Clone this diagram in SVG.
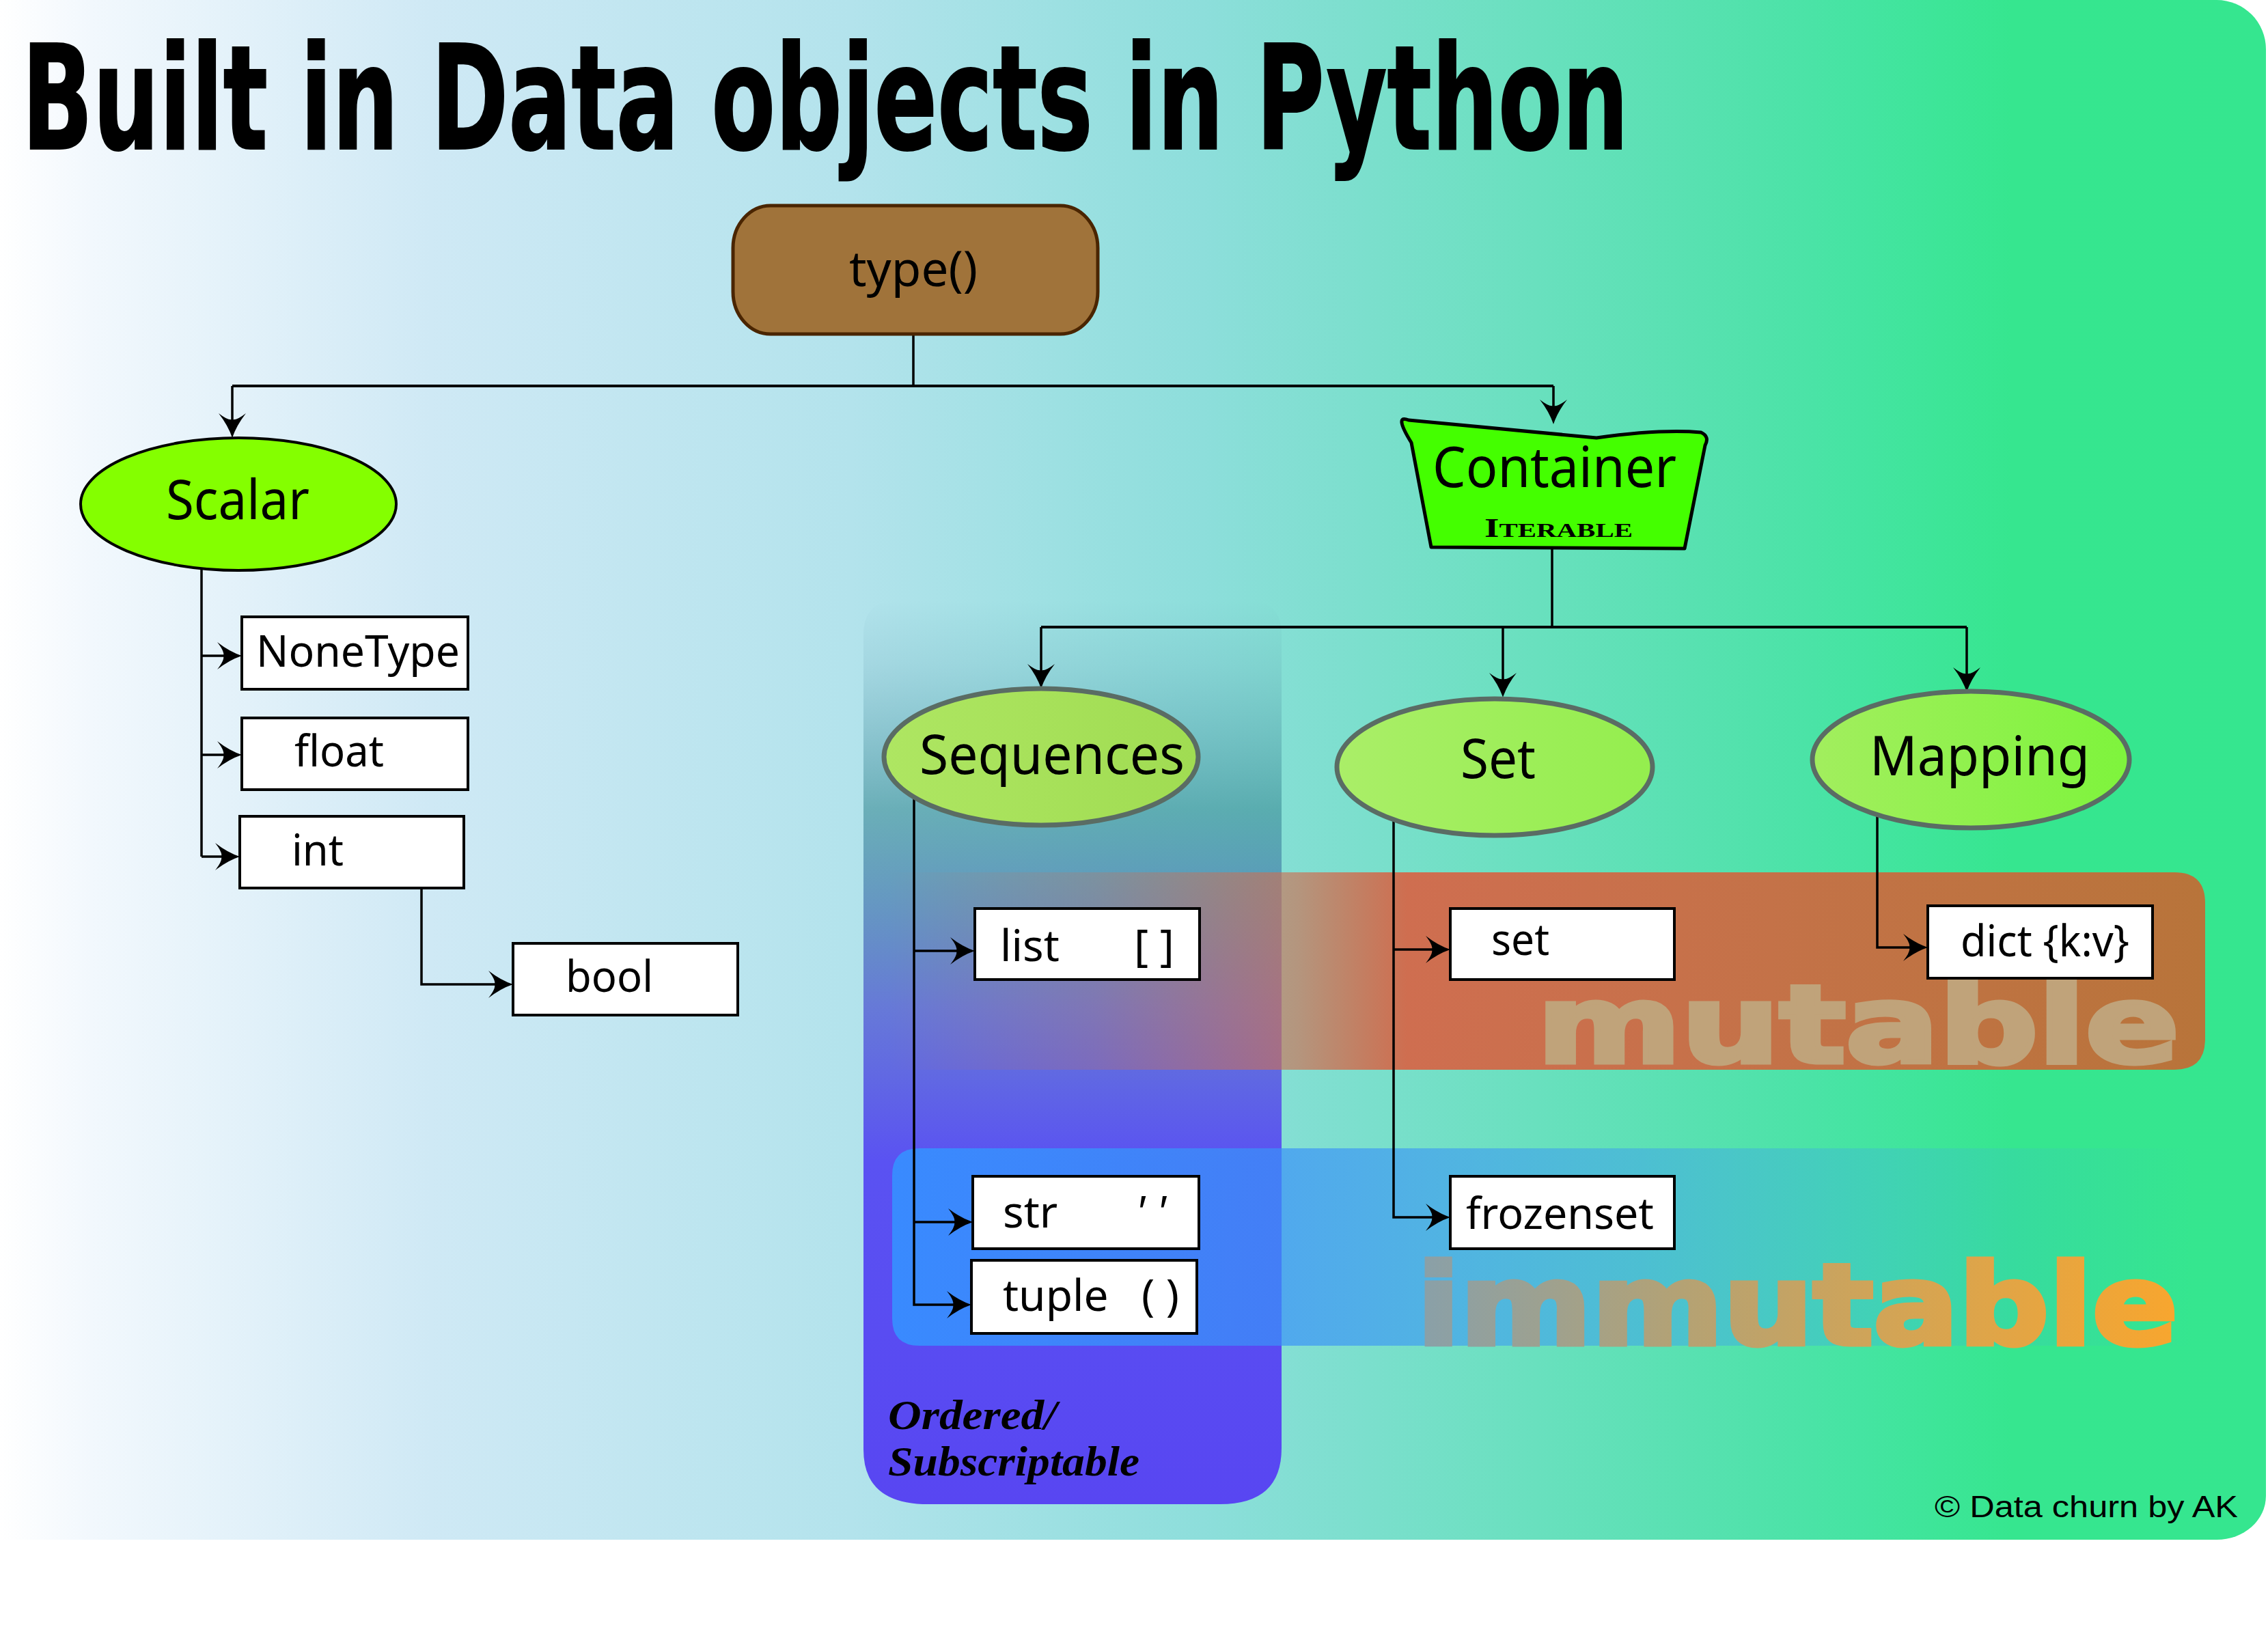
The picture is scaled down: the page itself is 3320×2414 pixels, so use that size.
<svg xmlns="http://www.w3.org/2000/svg" width="3320" height="2414" viewBox="0 0 3320 2414">
<defs>
<style>
.lbl{font-family:"Noto Sans","Open Sans","DejaVu Sans",sans-serif;fill:#000;}
.box{fill:#fff;stroke:#000;stroke-width:4;}
.ln{fill:none;stroke:#000;stroke-width:3.5;}
.lnk{fill:none;stroke:#000;stroke-width:4;}
.arr{marker-end:url(#ah);}
.cat{stroke:#5a6c64;stroke-width:7;}
</style>
<marker id="ah" viewBox="-30 -22 44 44" refX="0" refY="0" markerWidth="44" markerHeight="44" markerUnits="userSpaceOnUse" orient="auto">
<path d="M10,0 Q-8,-6 -26,-20 Q-15,-6 -17,0 Q-15,6 -26,20 Q-8,6 10,0 Z" fill="#000"/>
</marker>
<linearGradient id="bg" gradientUnits="userSpaceOnUse" x1="0" y1="0" x2="3320" y2="0">
<stop offset="0" stop-color="#ffffff"/>
<stop offset="0.04" stop-color="#f2f8fd"/>
<stop offset="0.19" stop-color="#cfe9f5"/>
<stop offset="0.375" stop-color="#b3e3ec"/>
<stop offset="0.53" stop-color="#8ddedb"/>
<stop offset="0.75" stop-color="#57e1b0"/>
<stop offset="0.82" stop-color="#45e4a2"/>
<stop offset="0.887" stop-color="#36e68f"/>
<stop offset="1" stop-color="#35e68f"/>
</linearGradient>
<linearGradient id="panel" gradientUnits="userSpaceOnUse" x1="0" y1="879" x2="0" y2="2202">
<stop offset="0" stop-color="#5a96aa" stop-opacity="0"/>
<stop offset="0.07" stop-color="#5a96aa" stop-opacity="0.15"/>
<stop offset="0.23" stop-color="#3c8c96" stop-opacity="0.6"/>
<stop offset="0.45" stop-color="#6070d6" stop-opacity="0.92"/>
<stop offset="0.62" stop-color="#5a52f2"/>
<stop offset="1" stop-color="#5846f2"/>
</linearGradient>
<linearGradient id="mut" gradientUnits="userSpaceOnUse" x1="1300" y1="0" x2="3228" y2="0">
<stop offset="0" stop-color="#cf6e50" stop-opacity="0"/>
<stop offset="0.156" stop-color="#cf6e50" stop-opacity="0.25"/>
<stop offset="0.311" stop-color="#cf6e50" stop-opacity="0.65"/>
<stop offset="0.394" stop-color="#cf6e50" stop-opacity="1"/>
<stop offset="0.67" stop-color="#c47248"/>
<stop offset="1" stop-color="#b8743a"/>
</linearGradient>
<linearGradient id="imm" gradientUnits="userSpaceOnUse" x1="1306" y1="0" x2="3210" y2="0">
<stop offset="0" stop-color="#388cff" stop-opacity="0.97"/>
<stop offset="0.3" stop-color="#3a92f8" stop-opacity="0.7"/>
<stop offset="0.57" stop-color="#3c9cf0" stop-opacity="0.5"/>
<stop offset="0.78" stop-color="#3ca8e6" stop-opacity="0.28"/>
<stop offset="1" stop-color="#3ca8e6" stop-opacity="0"/>
</linearGradient>
<linearGradient id="immtxt" gradientUnits="userSpaceOnUse" x1="2070" y1="0" x2="3190" y2="0">
<stop offset="0" stop-color="#88a0aa"/>
<stop offset="0.35" stop-color="#b4a274"/>
<stop offset="0.6" stop-color="#d0a458"/>
<stop offset="1" stop-color="#f8a62e"/>
</linearGradient>
<linearGradient id="eSeq" x1="0" y1="0" x2="1" y2="0">
<stop offset="0" stop-color="#aee662"/>
<stop offset="1" stop-color="#a0dc52"/>
</linearGradient>
<linearGradient id="eSet" x1="0" y1="0" x2="1" y2="0">
<stop offset="0" stop-color="#aaee68"/>
<stop offset="1" stop-color="#94ee4e"/>
</linearGradient>
<linearGradient id="eMap" x1="0" y1="0" x2="1" y2="0">
<stop offset="0" stop-color="#a2ee5e"/>
<stop offset="1" stop-color="#7ef43c"/>
</linearGradient>
</defs>

<g id="background">
<path d="M0,0 H3245 A72,72 0 0 1 3317,72 V2190 A72,64 0 0 1 3245,2254 H0 Z" fill="url(#bg)"/>
</g>

<g id="title">
<text x="32" y="218" font-family="'DejaVu Sans Condensed','DejaVu Sans',sans-serif" font-stretch="condensed" font-weight="bold" font-size="212" textLength="2352" lengthAdjust="spacingAndGlyphs" fill="#000" stroke="#000" stroke-width="2">Built in Data objects in Python</text>
</g>

<g id="ordered-panel">
<path d="M1314,879 H1826 Q1876,879 1876,929 V2120 Q1876,2202 1786,2202 H1359 Q1264,2202 1264,2122 V929 Q1264,879 1314,879 Z" fill="url(#panel)"/>
<text x="1300" y="2092" font-family="'Liberation Serif',serif" font-style="italic" font-weight="bold" font-size="62" textLength="247" lengthAdjust="spacingAndGlyphs">Ordered/</text>
<text x="1300" y="2160" font-family="'Liberation Serif',serif" font-style="italic" font-weight="bold" font-size="62" textLength="368" lengthAdjust="spacingAndGlyphs">Subscriptable</text>
</g>

<g id="mutable-band">
<path d="M1300,1277 H3183 Q3228,1277 3228,1322 V1521 Q3228,1566 3183,1566 H1300 Z" fill="url(#mut)"/>
<text x="2250" y="1555" font-family="'DejaVu Sans',sans-serif" font-weight="bold" font-size="156" textLength="940" lengthAdjust="spacingAndGlyphs" fill="#c0a37a" stroke="#c0a37a" stroke-width="7">mutable</text>
</g>

<g id="immutable-band">
<path d="M1346,1681 H3210 V1970 H1346 Q1306,1970 1306,1930 V1721 Q1306,1681 1346,1681 Z" fill="url(#imm)"/>
<text x="2074" y="1968" font-family="'DejaVu Sans',sans-serif" font-weight="bold" font-size="164" textLength="1114" lengthAdjust="spacingAndGlyphs" fill="url(#immtxt)" stroke="url(#immtxt)" stroke-width="7">immutable</text>
</g>

<g id="connectors">
<path class="ln" d="M1337,490 V565"/>
<path class="lnk" d="M340,565 H2274"/>
<path class="ln arr" d="M340,565 V631"/>
<path class="ln arr" d="M2274,565 V611"/>
<path class="ln" d="M295,832 V1254"/>
<path class="ln arr" d="M295,960 H344"/>
<path class="ln arr" d="M295,1105 H344"/>
<path class="ln arr" d="M295,1254 H341"/>
<path class="ln arr" d="M617,1300 V1441 H741"/>
<path class="ln" d="M2272,803 V918"/>
<path class="lnk" d="M1524,918 H2879"/>
<path class="ln arr" d="M1524,918 V998"/>
<path class="ln arr" d="M2200,918 V1011"/>
<path class="ln arr" d="M2879,918 V1003"/>
<path class="ln arr" d="M1338,1168 V1910 H1412"/>
<path class="ln arr" d="M1338,1392 H1417"/>
<path class="ln arr" d="M1338,1789 H1414"/>
<path class="ln arr" d="M2040,1199 V1782 H2113"/>
<path class="ln arr" d="M2040,1390 H2113"/>
<path class="ln arr" d="M2748,1190 V1387 H2812"/>
</g>

<g id="node-type">
<rect x="1073" y="301" width="534" height="188" rx="55" ry="62" fill="#a0733a" stroke="#4a2500" stroke-width="5"/>
<text class="lbl" x="1243" y="419" font-size="72" textLength="188" lengthAdjust="spacingAndGlyphs">type()</text>
</g>

<g id="node-scalar">
<ellipse cx="349" cy="738" rx="231" ry="97" fill="#84ff00" stroke="#000" stroke-width="4"/>
<text class="lbl" x="243" y="760" font-size="80" textLength="210" lengthAdjust="spacingAndGlyphs">Scalar</text>
</g>

<g id="node-container">
<path d="M2095,801 L2066,648 Q2040,606 2062,615 L2337,641 Q2430,628 2490,633 Q2503,639 2496,652 L2466,803 Z" fill="#44ff00" stroke="#000" stroke-width="5" stroke-linejoin="round"/>
<text class="lbl" x="2097" y="713" font-size="82" textLength="357" lengthAdjust="spacingAndGlyphs">Container</text>
<text x="2173" y="786" font-family="'Liberation Serif',serif" font-weight="bold" font-size="39" textLength="217" lengthAdjust="spacingAndGlyphs">I<tspan font-size="29">TERABLE</tspan></text>
</g>

<g id="node-nonetype">
<rect class="box" x="354" y="903" width="331" height="106"/>
<text class="lbl" x="375" y="976" font-size="64" textLength="298" lengthAdjust="spacingAndGlyphs">NoneType</text>
</g>
<g id="node-float">
<rect class="box" x="354" y="1051" width="331" height="105"/>
<text class="lbl" x="431" y="1122" font-size="64" textLength="131" lengthAdjust="spacingAndGlyphs">float</text>
</g>
<g id="node-int">
<rect class="box" x="351" y="1195" width="328" height="105"/>
<text class="lbl" x="427" y="1267" font-size="64" textLength="76" lengthAdjust="spacingAndGlyphs">int</text>
</g>
<g id="node-bool">
<rect class="box" x="751" y="1381" width="329" height="105"/>
<text class="lbl" x="828" y="1452" font-size="64" textLength="128" lengthAdjust="spacingAndGlyphs">bool</text>
</g>

<g id="node-sequences">
<ellipse class="cat" cx="1524" cy="1108" rx="230" ry="100" fill="url(#eSeq)"/>
<text class="lbl" x="1346" y="1133" font-size="80" textLength="388" lengthAdjust="spacingAndGlyphs">Sequences</text>
</g>
<g id="node-set-cat">
<ellipse class="cat" cx="2188" cy="1123" rx="231" ry="100" fill="url(#eSet)"/>
<text class="lbl" x="2138" y="1139" font-size="80" textLength="110" lengthAdjust="spacingAndGlyphs">Set</text>
</g>
<g id="node-mapping">
<ellipse class="cat" cx="2885" cy="1112" rx="232" ry="100" fill="url(#eMap)"/>
<text class="lbl" x="2737" y="1135" font-size="80" textLength="322" lengthAdjust="spacingAndGlyphs">Mapping</text>
</g>

<g id="node-list">
<rect class="box" x="1427" y="1330" width="329" height="104"/>
<text class="lbl" x="1464" y="1407" font-size="64">list<tspan x="1660">[ ]</tspan></text>
</g>
<g id="node-set">
<rect class="box" x="2123" y="1330" width="328" height="104"/>
<text class="lbl" x="2183" y="1398" font-size="64" textLength="85" lengthAdjust="spacingAndGlyphs">set</text>
</g>
<g id="node-dict">
<rect class="box" x="2822" y="1326" width="329" height="106"/>
<text class="lbl" x="2870" y="1400" font-size="64" textLength="247" lengthAdjust="spacingAndGlyphs">dict {k:v}</text>
</g>
<g id="node-str">
<rect class="box" x="1424" y="1722" width="331" height="106"/>
<text class="lbl" x="1468" y="1797" font-size="64">str<tspan x="1662" font-style="italic">' '</tspan></text>
</g>
<g id="node-tuple">
<rect class="box" x="1422" y="1845" width="330" height="107"/>
<text class="lbl" x="1468" y="1919" font-size="64">tuple<tspan x="1671">( )</tspan></text>
</g>
<g id="node-frozenset">
<rect class="box" x="2123" y="1722" width="328" height="106"/>
<text class="lbl" x="2146" y="1799" font-size="64" textLength="275" lengthAdjust="spacingAndGlyphs">frozenset</text>
</g>

<g id="credit">
<text x="2832" y="2221" font-family="'Liberation Sans',Arial,sans-serif" font-size="45" textLength="444" lengthAdjust="spacingAndGlyphs">© Data churn by AK</text>
</g>
</svg>
